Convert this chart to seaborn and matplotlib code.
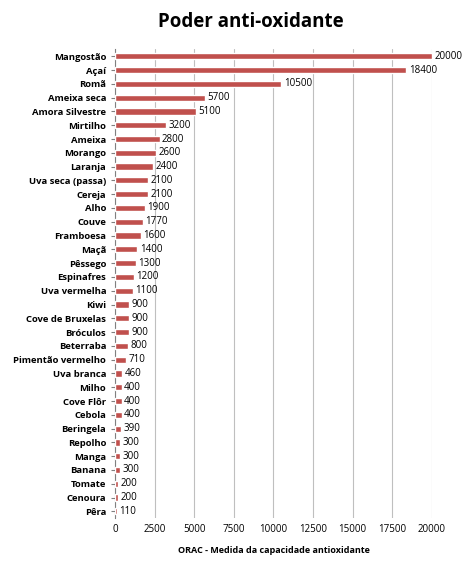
import matplotlib
matplotlib.use("Agg")
import matplotlib.pyplot as plt
import seaborn as sns
import pandas as pd

foods = ["Mangostão","Açaí","Romã","Ameixa seca","Amora Silvestre","Mirtilho","Ameixa","Morango",
         "Laranja","Uva seca (passa)","Cereja","Alho","Couve","Framboesa","Maçã","Pêssego",
         "Espinafres","Uva vermelha","Kiwi","Cove de Bruxelas","Bróculos","Beterraba",
         "Pimentão vermelho","Uva branca","Milho","Cove Flôr","Cebola","Beringela","Repolho",
         "Manga","Banana","Tomate","Cenoura","Pêra"]
orac = [20000,18400,10500,5700,5100,3200,2800,2600,2400,2100,2100,1900,1770,1600,1400,1300,
        1200,1100,900,900,900,800,710,460,400,400,400,390,300,300,300,200,200,110]
ticks = [0,2500,5000,7500,10000,12500,15000,17500,20000]

df = pd.DataFrame({"food": foods, "orac": orac})
sns.set_style("white")
plt.rcParams['font.family'] = ['Open Sans', 'DejaVu Sans']
plt.rcParams['text.color'] = 'black'
plt.rcParams['xtick.color'] = 'black'
plt.rcParams['ytick.color'] = 'black'
plt.rcParams['axes.labelcolor'] = 'black'

fig = plt.figure(figsize=(4.74, 5.81), dpi=100)
ax = fig.add_axes([0.243, 0.108, 0.668, 0.807])
sns.barplot(data=df, x="orac", y="food", color="#c0504d", saturation=1, width=0.45, ax=ax, zorder=3)
ax.set_xlim(0, 20000)
ax.set_xticks(ticks)
ax.set_xticklabels([str(t) for t in ticks], fontsize=7)
ax.xaxis.grid(True, color="#bfbfbf", linewidth=0.8, zorder=0)
ax.set_axisbelow(True)
for s in ["top", "right", "bottom"]:
    ax.spines[s].set_visible(False)
ax.spines["left"].set_color("#808080")
ax.tick_params(axis="y", labelsize=6.8, length=3, left=True, color="#808080", labelcolor="black")
for lbl in ax.get_yticklabels():
    lbl.set_fontweight("bold")
ax.tick_params(axis="x", length=0, pad=4, labelcolor="black")
for i, v in enumerate(orac):
    ax.text(v + 150, i, str(v), va="center", ha="left", fontsize=7, color="black")
ax.set_ylabel("")
ax.set_xlabel("ORAC - Medida da capacidade antioxidante", fontsize=6.5, fontweight="bold", labelpad=8)
fig.text(0.53, 0.962, "Poder anti-oxidante", ha="center", va="center", fontsize=13.5, fontweight="bold", color="black")
fig.savefig("out.png", dpi=100, facecolor="white")
